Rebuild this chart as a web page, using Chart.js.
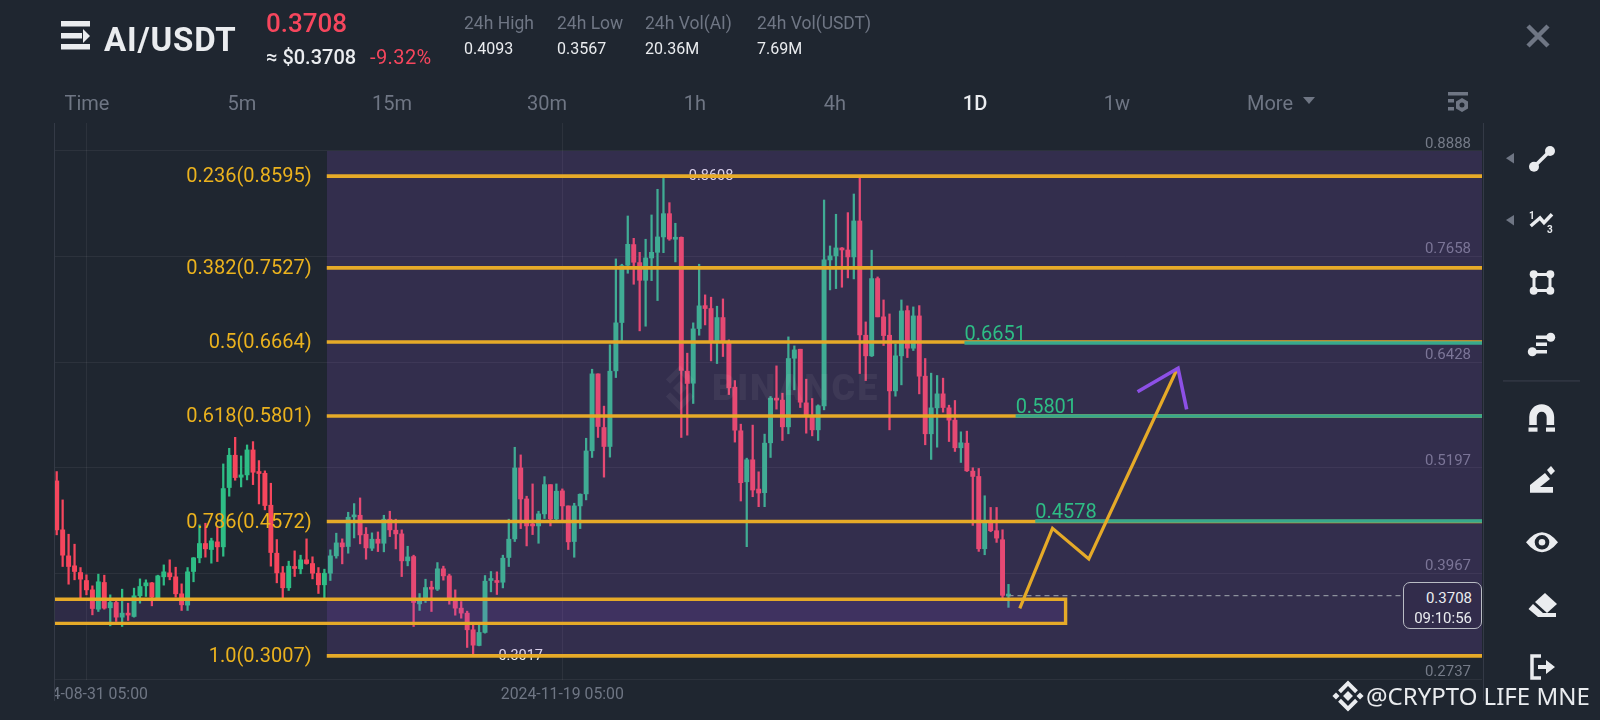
<!DOCTYPE html>
<html>
<head>
<meta charset="utf-8">
<title>AI/USDT</title>
<script src="https://cdn.jsdelivr.net/npm/chart.js@4"></script>
<style>
    html, body { margin: 0; padding: 0; width: 1600px; height: 720px; overflow: hidden; background: #1f2630; font-family: Roboto, sans-serif; }
    canvas { position: absolute; left: 0; top: 0; }
    .t { position: absolute; white-space: nowrap; line-height: 1; transform: translateY(-50%); }
    .c { transform: translate(-50%, -50%); }
    .tab { top: 103px; font-size: 20px; color: #6f7684; }
    .lbl { top: 24px; font-size: 17.5px; color: #6f7684; }
    .val { top: 49px; font-size: 16px; color: #eaecef; }
    .frame { position: absolute; background: #343a46; }
    svg { position: absolute; left: 0; top: 0; }
</style>
</head>
<body>
<canvas id="chart" width="1600" height="720"></canvas>

<!-- header -->
<div class="t" style="left:104px;top:39px;font-size:33px;font-weight:700;letter-spacing:.8px;color:#eaecef">AI/USDT</div>
<div class="t" style="left:266px;top:23px;font-size:26px;font-weight:500;color:#f6465d">0.3708</div>
<div class="t" style="left:266px;top:57px;font-size:20px;font-weight:500;color:#eaecef">≈ $0.3708</div>
<div class="t" style="left:370px;top:57px;font-size:20px;letter-spacing:.4px;color:#f6465d">-9.32%</div>
<div class="t lbl" style="left:464px">24h High</div><div class="t val" style="left:464px">0.4093</div>
<div class="t lbl" style="left:557px">24h Low</div><div class="t val" style="left:557px">0.3567</div>
<div class="t lbl" style="left:645px">24h Vol(AI)</div><div class="t val" style="left:645px">20.36M</div>
<div class="t lbl" style="left:757px">24h Vol(USDT)</div><div class="t val" style="left:757px">7.69M</div>

<!-- interval tabs -->
<div class="t c tab" style="left:87px">Time</div>
<div class="t c tab" style="left:242px">5m</div>
<div class="t c tab" style="left:392px">15m</div>
<div class="t c tab" style="left:547px">30m</div>
<div class="t c tab" style="left:695px">1h</div>
<div class="t c tab" style="left:835px">4h</div>
<div class="t c tab" style="left:975px;color:#eaecef;font-weight:500">1D</div>
<div class="t c tab" style="left:1117px">1w</div>
<div class="t tab" style="left:1247px">More</div>

<!-- frame around the plot -->
<div class="frame" style="left:54px;top:123px;width:1px;height:578px"></div>
<div class="frame" style="left:1483px;top:123px;width:1px;height:578px"></div>
<div style="position:absolute;left:0;top:681px;width:54px;height:39px;background:#1f2630"></div>

<!-- faint exchange mark behind the drawings -->
<div class="t" style="left:712px;top:388px;font-size:36px;font-weight:900;letter-spacing:2px;color:rgba(255,255,255,.055)">BINANCE</div>

<!-- last price tag -->
<div style="position:absolute;left:1403px;top:582px;width:77px;height:45px;border:1px solid #b9bcc4;border-radius:7px;background:#322c4b"></div>
<div class="t" style="right:128px;top:598px;font-size:15px;color:#eaecef">0.3708</div>
<div class="t" style="right:128px;top:618px;font-size:15px;color:#eaecef">09:10:56</div>

<div class="t" style="left:1366px;top:696px;font-size:24px;font-family:'Noto Sans',sans-serif;color:#eaecef">@CRYPTO LIFE MNE</div>

<svg width="1600" height="720" viewBox="0 0 1600 720">
    <!-- menu -->
    <g fill="#eaecef">
        <rect x="61" y="21" width="29" height="5.5"/>
        <rect x="61" y="33" width="21" height="5.5"/>
        <path d="M83 29 L90 36 L83 43 Z"/>
        <rect x="61" y="44" width="29" height="5.5"/>
    </g>
    <path d="M1528 26 L1548 46 M1548 26 L1528 46" stroke="#6f7684" stroke-width="4.5" fill="none"/>
    <path d="M1303 97 L1315 97 L1309 104 Z" fill="#6f7684"/>
    <!-- chart settings -->
    <g fill="#6f7684">
        <rect x="1448" y="92" width="20" height="3.5"/>
        <rect x="1448" y="99" width="6" height="3.5"/>
        <rect x="1448" y="107" width="6" height="3.5"/>
        <path fill-rule="evenodd" d="M1462 98 L1468 101.5 L1468 108.5 L1462 112 L1456 108.5 L1456 101.5 Z M1462 102.5 A2.5 2.5 0 1 0 1462 107.5 A2.5 2.5 0 1 0 1462 102.5 Z"/>
    </g>
    <!-- toolbar -->
    <g fill="#6f7684">
        <path d="M1514 153 L1514 163.5 L1506 158.3 Z"/>
        <path d="M1514 215 L1514 225.5 L1506 220 Z"/>
    </g>
    <g fill="#eaecef" stroke="none">
        <path d="M1534 166.7 L1550 151" stroke="#eaecef" stroke-width="3.5"/>
        <circle cx="1534" cy="166.7" r="5"/><circle cx="1550" cy="151" r="5"/>
        <path d="M1530.7 226 L1540 218 L1544 222.7 L1552 214.3" stroke="#eaecef" stroke-width="3.5" fill="none"/>
        <text x="1529" y="219" font-size="10" font-weight="700">1</text>
        <text x="1547" y="233" font-size="10" font-weight="700">3</text>
        <path d="M1534 274.5 H1550 V290.5 H1534 Z" stroke="#eaecef" stroke-width="3" fill="none"/>
        <circle cx="1533.7" cy="274.3" r="4"/><circle cx="1550.3" cy="274.3" r="4"/>
        <circle cx="1533.7" cy="290.7" r="4"/><circle cx="1550.3" cy="290.7" r="4"/>
        <circle cx="1550.7" cy="337.3" r="4.5"/><rect x="1536" y="335.5" width="14" height="3.5"/>
        <rect x="1536" y="342.5" width="11" height="3.5"/>
        <circle cx="1532.3" cy="351.7" r="4.5"/><rect x="1532" y="350" width="15" height="3.5"/>
        <rect x="1503" y="380" width="77" height="1.8" fill="#2e3440"/>
        <!-- magnet -->
        <path d="M1533 425 V417 A8.7 9 0 0 1 1550.4 417 V425" stroke="#eaecef" stroke-width="7.5" fill="none"/>
        <rect x="1528.5" y="427.5" width="9" height="4.2"/><rect x="1546" y="427.5" width="9" height="4.2"/>
        <!-- pencil -->
        <path d="M1530 485 L1545 473 L1550 479 L1540 487 L1553 487 L1553 492.7 L1530 492.7 Z"/>
        <path d="M1547 470 L1551 466 L1555 471 L1551 475 Z"/>
        <!-- eye -->
        <path fill-rule="evenodd" d="M1526 542.3 Q1542 522 1558 542.3 Q1542 562 1526 542.3 Z M1542 535 A7.3 7.3 0 1 0 1542 549.6 A7.3 7.3 0 1 0 1542 535 Z"/>
        <circle cx="1542" cy="542.3" r="3.3"/>
        <!-- eraser -->
        <path d="M1545 593 L1557 604 L1547 613 L1535 602 Z"/>
        <path d="M1533 604 L1543 613 L1556 613 L1556 617 L1538 617 L1528.5 609 Z"/>
        <!-- exit -->
        <path d="M1541 656 H1532 V678 H1541" stroke="#eaecef" stroke-width="3.5" fill="none"/>
        <path d="M1538 665 H1546 V660 L1555 667 L1546 674 V669 H1538 Z"/>
        <!-- watermark logo -->
        <g transform="translate(1348 696) rotate(45)">
            <rect x="-3.5" y="-3.5" width="7" height="7"/>
            <path d="M-11 -11 H3 V-7 H-7 V3 H-11 Z"/>
            <path d="M11 11 H-3 V7 H7 V-3 H11 Z"/>
            <rect x="6" y="-11" width="5" height="5"/>
            <rect x="-11" y="6" width="5" height="5"/>
        </g>
    </g>
    <g transform="translate(680 388) rotate(45)" fill="rgba(255,255,255,.055)">
        <rect x="-5" y="-5" width="10" height="10"/>
        <path d="M-16 -16 H4 V-10 H-10 V4 H-16 Z"/>
        <path d="M16 16 H-4 V10 H10 V-4 H16 Z"/>
    </g>
</svg>

<script>
// daily candles, one entry per day from the left edge of the chart
const opens = [
    .5045,.4475,.4172,.4056,.3978,.3885,.3776,.3551,.3862,.3567,
    .3629,.3458,.3497,.3466,.3707,.3823,.3858,.3679,.3928,.3974,
    .3928,.3730,.3598,.3990,.4149,.4316,.4246,.4335,.4277,.4968,
    .5344,.5088,.5115,.5406,.5142,.5134,.4762,.4203,.3974,.3800,
    .4048,.4021,.4126,.4083,.3970,.3835,.3970,.4172,.4323,.4281,
    .4626,.4645,.4424,.4261,.4366,.4319,.4599,.4471,.4428,.4114,
    .4164,.3613,.3679,.3803,.3784,.4021,.3939,.3660,.3563,.3505,
    .3311,.3128,.3280,.3885,.3881,.3865,.4153,.4370,.5196,.4835,
    .4544,.4521,.4661,.5002,.4603,.4929,.4754,.4339,.4754,.4894,
    .5396,.6292,.5667,.5446,.6327,.6890,.7557,.7798,.7588,.7382,
    .7642,.7708,.7887,.8158,.7860,.7883,.6323,.6183,.6820,.7087,
    .7053,.6668,.6948,.6668,.6137,.5629,.5035,.5291,.4950,.4908,
    .5489,.6005,.5986,.5675,.6474,.6579,.5954,.5795,.5640,.5920,
    .7619,.7666,.7755,.7735,.7654,.8073,.6742,.6502,.7402,.6956,
    .6742,.6094,.6502,.7029,.6591,.6967,.6265,.5594,.5896,.6059,
    .5896,.5753,.5431,.5485,.5159,.5097,.4255,.4561,.4465,.4360,.3704,
];
const closes = [
    .4475,.4180,.4048,.3990,.3901,.3776,.3559,.3870,.3563,.3629,
    .3458,.3505,.3482,.3707,.3815,.3858,.3691,.3939,.3986,.3928,
    .3730,.3602,.3986,.4149,.4316,.4254,.4347,.4277,.4956,.5344,
    .5084,.5115,.5406,.5146,.5131,.4758,.4211,.3974,.3800,.4052,
    .4025,.4126,.4083,.3970,.3835,.3970,.4172,.4323,.4277,.4622,
    .4641,.4416,.4265,.4366,.4319,.4599,.4475,.4428,.4114,.4160,
    .3629,.3660,.3803,.3784,.4021,.3939,.3660,.3563,.3505,.3311,
    .3132,.3280,.3877,.3896,.3862,.4145,.4366,.5196,.4835,.4521,
    .4521,.4661,.5002,.4603,.4925,.4754,.4335,.4754,.4890,.5394,
    .6292,.5679,.5446,.6323,.6886,.7553,.7801,.7592,.7382,.7642,
    .7708,.7887,.8158,.7863,.7879,.6331,.6180,.6816,.7084,.7053,
    .6668,.6948,.6668,.6129,.5636,.5024,.5291,.4939,.4904,.5485,
    .6009,.5986,.5675,.6471,.6571,.5962,.5795,.5640,.5920,.7619,
    .7666,.7759,.7735,.7654,.8073,.6746,.6502,.7402,.6956,.6738,
    .6094,.6502,.7025,.6591,.6967,.6265,.5594,.5896,.6059,.5900,
    .5753,.5431,.5489,.5163,.5097,.4255,.4554,.4465,.4379,.3712,.3708,
];
const highs = [
    .5154,.4824,.4424,.4308,.4036,.3951,.3823,.3959,.3947,.3718,
    .3668,.3784,.3621,.3796,.3904,.3893,.3862,.3947,.4067,.4126,
    .4040,.3846,.4036,.4153,.4533,.4552,.4378,.4506,.5243,.5425,
    .5553,.5336,.5464,.5503,.5282,.5162,.5018,.4362,.4048,.4110,
    .4230,.4180,.4370,.4161,.4036,.4017,.4242,.4436,.4370,.4680,
    .4781,.4847,.4502,.4440,.4451,.4645,.4692,.4599,.4475,.4284,
    .4180,.3733,.3900,.3877,.4094,.4052,.3959,.3776,.3640,.3528,
    .3369,.3369,.3943,.3990,.3986,.4180,.4599,.5437,.5348,.4867,
    .5010,.4692,.5095,.5002,.5010,.4952,.4754,.4785,.4894,.5542,
    .6346,.6292,.5916,.6630,.7631,.7569,.8131,.7871,.7708,.7860,
    .8143,.8442,.8570,.8286,.8046,.7887,.6533,.6886,.7569,.7212,
    .7185,.7080,.7165,.6688,.6214,.5706,.5310,.5695,.5151,.5590,
    .6028,.6385,.6067,.6723,.6618,.6579,.6230,.6005,.5931,.8317,
    .7782,.8151,.7763,.8170,.8387,.8570,.6897,.7732,.7421,.7153,
    .6990,.6641,.7153,.7084,.7072,.7087,.6471,.6300,.6273,.6242,
    .5927,.5982,.5617,.5625,.5198,.5190,.4872,.4736,.4736,.4476,.3840,
];
const lows = [
    .4417,.4048,.3842,.3893,.3679,.3718,.3485,.3524,.3551,.3357,
    .3408,.3350,.3419,.3458,.3621,.3699,.3590,.3660,.3831,.3893,
    .3691,.3536,.3536,.3870,.4091,.4157,.4087,.4106,.4168,.4867,
    .5053,.4975,.5057,.5002,.4777,.4708,.4052,.3858,.3672,.3769,
    .3932,.3963,.4075,.3904,.3734,.3679,.3885,.4145,.4079,.4203,
    .4381,.4312,.4133,.4234,.4222,.4219,.4397,.4253,.3931,.4056,
    .3349,.3536,.3629,.3524,.3768,.3889,.3609,.3481,.3446,.3105,
    .3020,.3124,.3272,.3753,.3722,.3799,.4048,.4339,.4490,.4288,
    .4420,.4319,.4607,.4521,.4583,.4583,.4246,.4156,.4490,.4824,
    .5318,.5551,.5089,.5322,.6249,.6668,.7464,.7336,.6793,.6847,
    .7378,.7146,.7704,.7848,.7596,.5551,.5578,.5947,.6742,.6862,
    .6443,.6412,.6494,.6051,.5497,.4811,.4279,.4861,.4745,.4745,
    .5318,.5881,.5516,.5594,.6106,.5900,.5601,.5570,.5516,.5873,
    .7270,.7285,.7301,.7410,.7398,.6296,.6214,.6494,.6956,.6622,
    .5640,.6032,.6164,.6482,.6564,.6059,.5466,.5295,.5438,.5846,
    .5504,.5388,.5260,.5155,.4527,.4224,.4185,.4453,.4329,.3669,.3572,
];

// axes
const priceTicks = [.8888, .7658, .6428, .5197, .3967, .2737];
const timeTickIndex = [5, 85];
const timeTickLabels = ['2024-08-31 05:00', '2024-11-19 05:00'];
const lastPrice = .3708;

// fibonacci tool
const fibRatios = ['0.236', '0.382', '0.5', '0.618', '0.786', '1.0'];
const fibLevels = [.8595, .7527, .6664, .5801, .4572, .3007];
const fibTop = .8888;
const fibStart = 45.4;

// high / low marks printed by the chart, x in candle index
const markTexts = ['0.8608', '0.3017'];
const markX = [110, 78];
const markY = [.8595, .3007];

// the analyst's drawings, x in candle index
const targetLevels = [.6651, .5801, .4578];
const targetStart = [152.6, 161.2, 164.5];
const zoneTop = .3666;
const zoneBottom = .3386;
const zoneEnd = 169.6;
const pathX = [161.9, 167.4, 173.5, 188.4];
const pathY = [.3561, .4493, .4136, .6357];
const arrowX = [181.7, 188.5, 189.95];
const arrowY = [.6084, .6357, .5879];

// chart window
const xMin = -0.286, xMax = 239.6;
const yMin = .27261, yMax = .92141;
const lastCandle = 160, tagX = 226.3;

const GREEN = '#2ebd85';
const RED = '#f6465d';
const GOLD = '#e6aa28';
const TEAL = '#37a88c';
const OVERLAY = 'rgba(157, 86, 228, 0.17)';
const FONT = 'Roboto, sans-serif';

const candleColors = closes.map((c, i) => (c >= opens[i] ? GREEN : RED));

/* straight segments for the drawings */
function line(xs, ys, color, width, order, extra = {}) {
    return {
        type: 'line',
        data: xs.map((x, i) => ({ x, y: ys[i] })),
        borderColor: color,
        borderWidth: width,
        pointRadius: 0,
        tension: 0,
        fill: false,
        order,
        borderCapStyle: 'butt',
        borderJoinStyle: 'miter',
        ...extra,
    };
}

const wickDataset = {
    label: 'wicks',
    data: lows.map((l, i) => ({ x: i, y: [l, highs[i]] })),
    backgroundColor: candleColors,
    barThickness: 1.6,
    grouped: false,
    order: 11,
};
const bodyDataset = {
    label: 'bodies',
    data: opens.map((o, i) => ({ x: i, y: [Math.min(o, closes[i]), Math.max(o, closes[i])] })),
    backgroundColor: candleColors,
    barThickness: 4.3,
    minBarLength: 2,
    grouped: false,
    order: 10,
};

const datasets = [
    wickDataset,
    bodyDataset,
    // shaded areas are lines with a fill, laid over the candles
    line([fibStart, xMax], [fibTop, fibTop], 'rgba(0,0,0,0)', 0, 9, { fill: { value: fibLevels[5] }, backgroundColor: OVERLAY }),
    line([xMin, zoneEnd], [zoneTop, zoneTop], 'rgba(0,0,0,0)', 0, 8, { fill: { value: zoneBottom }, backgroundColor: 'rgba(157, 86, 228, 0.12)' }),
    line([xMin, zoneEnd, zoneEnd, xMin], [zoneTop, zoneTop, zoneBottom, zoneBottom], GOLD, 3.4, 5),
    line([lastCandle, tagX], [lastPrice, lastPrice], '#8d919c', 1.3, 6, { borderDash: [5, 4] }),
    ...fibLevels.map((level) => line([fibStart, xMax], [level, level], GOLD, 3.6, 4)),
    ...targetLevels.map((level, i) => line([targetStart[i], xMax], [level, level], TEAL, 3.6, 3)),
    line(pathX, pathY, GOLD, 3.2, 2),
    line(arrowX, arrowY, '#8d50e6', 3.6, 1),
];

/* Text that belongs to the drawings: fib names, target prices, high/low marks */
const drawingText = {
    id: 'drawingText',
    afterDatasetDraw(chart, args) {
        // the high/low marks sit under the fib lines
        if (args.index !== 1) return;
        const { ctx, scales: { x, y } } = chart;
        ctx.save();
        ctx.font = `14.5px ${FONT}`;
        ctx.fillStyle = '#eaecef';
        ctx.textAlign = 'center';
        ctx.textBaseline = 'middle';
        markTexts.forEach((text, i) => ctx.fillText(text, x.getPixelForValue(markX[i]), y.getPixelForValue(markY[i])));
        ctx.restore();
    },
    afterDatasetsDraw(chart) {
        const { ctx, scales: { x, y } } = chart;
        ctx.save();
        ctx.font = `20px ${FONT}`;
        ctx.textBaseline = 'middle';
        ctx.textAlign = 'right';
        ctx.fillStyle = '#ebb21e';
        fibLevels.forEach((level, i) => {
            ctx.fillText(`${fibRatios[i]}(${level.toFixed(4)})`, x.getPixelForValue(fibStart) - 15, y.getPixelForValue(level) + 1);
        });
        ctx.textAlign = 'left';
        ctx.textBaseline = 'alphabetic';
        ctx.fillStyle = GREEN;
        targetLevels.forEach((level, i) => {
            ctx.fillText(level.toFixed(4), x.getPixelForValue(targetStart[i]), y.getPixelForValue(level) - 3);
        });
        ctx.restore();
    },
};

new Chart(document.getElementById('chart'), {
    type: 'bar',
    data: { datasets },
    plugins: [drawingText],
    options: {
        responsive: false,
        animation: false,
        events: [],
        layout: { padding: { left: 55, right: 118, top: 123, bottom: 0 } },
        plugins: { legend: { display: false }, tooltip: { enabled: false } },
        scales: {
            x: {
                type: 'linear',
                offset: false,
                min: xMin,
                max: xMax,
                grid: { offset: false, color: 'rgba(255,255,255,0.06)', drawTicks: false },
                border: { display: false },
                afterBuildTicks(scale) { scale.ticks = timeTickIndex.map((value) => ({ value })); },
                afterFit(scale) { scale.height = 40; scale.paddingLeft = 0; scale.paddingRight = 0; },
                ticks: {
                    autoSkip: false,
                    maxRotation: 0,
                    padding: 6,
                    color: '#6f7684',
                    font: { family: FONT, size: 15.8 },
                    callback: (v) => timeTickLabels[timeTickIndex.indexOf(v)],
                },
            },
            y: {
                type: 'linear',
                position: 'right',
                min: yMin,
                max: yMax,
                grid: { color: 'rgba(255,255,255,0.06)', drawTicks: false },
                border: { display: false },
                afterBuildTicks(scale) { scale.ticks = priceTicks.map((value) => ({ value })); },
                afterFit(scale) { scale.width = 0; scale.paddingTop = 0; scale.paddingBottom = 0; },
                ticks: {
                    mirror: true,
                    padding: -11,
                    labelOffset: -7,
                    color: '#757b88',
                    font: { family: FONT, size: 15 },
                    callback: (v) => v.toFixed(4),
                },
            },
        },
    },
});
</script>
</body>
</html>
